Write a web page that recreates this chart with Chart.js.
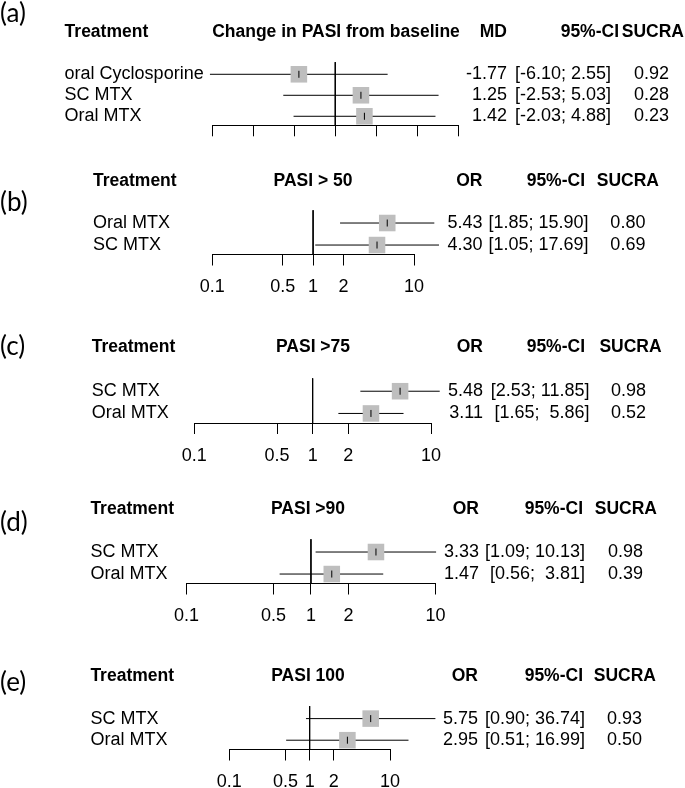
<!DOCTYPE html>
<html>
<head>
<meta charset="utf-8">
<script src="https://cdn.jsdelivr.net/npm/chart.js@4.4.1/dist/chart.umd.min.js"></script>
<style>
  html, body { margin: 0; padding: 0; background: #fff; }
  body { width: 685px; height: 788px; position: relative; overflow: hidden; }
  .panel { position: absolute; left: 0; width: 685px; }
</style>
</head>
<body>
<div class="panel"><canvas id="chartA"></canvas></div>
<div class="panel"><canvas id="chartB"></canvas></div>
<div class="panel"><canvas id="chartC"></canvas></div>
<div class="panel"><canvas id="chartD"></canvas></div>
<div class="panel"><canvas id="chartE"></canvas></div>
<script>
// (a) change in PASI from baseline, mean difference
const aTreatments = ['oral Cyclosporine', 'SC MTX', 'Oral MTX'];
const aEst = [-1.77, 1.25, 1.42];
const aLower = [-6.10, -2.53, -2.03];
const aUpper = [2.55, 5.03, 4.88];
const aSucra = [0.92, 0.28, 0.23];
const aTicks = [-6, -4, -2, 0, 2, 4, 6];

// (b) PASI > 50, odds ratio
const bTreatments = ['Oral MTX', 'SC MTX'];
const bEst = [5.43, 4.30];
const bLower = [1.85, 1.05];
const bUpper = [15.90, 17.69];
const bSucra = [0.80, 0.69];

// (c) PASI >75
const cTreatments = ['SC MTX', 'Oral MTX'];
const cEst = [5.48, 3.11];
const cLower = [2.53, 1.65];
const cUpper = [11.85, 5.86];
const cSucra = [0.98, 0.52];

// (d) PASI >90
const dTreatments = ['SC MTX', 'Oral MTX'];
const dEst = [3.33, 1.47];
const dLower = [1.09, 0.56];
const dUpper = [10.13, 3.81];
const dSucra = [0.98, 0.39];

// (e) PASI 100
const eTreatments = ['SC MTX', 'Oral MTX'];
const eEst = [5.75, 2.95];
const eLower = [0.90, 0.51];
const eUpper = [36.74, 16.99];
const eSucra = [0.93, 0.50];

const orTicks = [0.1, 0.5, 1, 2, 10];

const FONT = '"Liberation Sans", Arial, sans-serif';
const FONT_SIZE = 18;
const HEAD_SIZE = 17.5;
const TICK_LEN = 11;
const TICK_PAD = 11;

// layout per panel, absolute page pixels
const panels = [
  { id: 'chartA', tag: '(a)', title: 'Change in PASI from baseline', estLabel: 'MD', log: false, ref: 0, tickLabels: false,
    names: aTreatments, est: aEst, lower: aLower, upper: aUpper, sucra: aSucra, ticks: aTicks,
    top: 0, rowsTop: 53.3, axisY: 126, x0: 212, x1: 458.5, tagY: 14, headY: 32, nameX: 64.6, titleX: 336,
    estRight: 507, ciRight: 611, ciHeadRight: 619, sucraRight: 669, sucraHeadRight: 684 },
  { id: 'chartB', tag: '(b)', title: 'PASI > 50', estLabel: 'OR', log: true, ref: 1, tickLabels: true,
    names: bTreatments, est: bEst, lower: bLower, upper: bUpper, sucra: bSucra, ticks: orTicks,
    top: 150, rowsTop: 201, axisY: 254, x0: 212.2, x1: 414, tagY: 203, headY: 181, nameX: 93, titleX: 313,
    estRight: 482.5, ciRight: 588.6, ciHeadRight: 585, sucraRight: 645.4, sucraHeadRight: 659 },
  { id: 'chartC', tag: '(c)', title: 'PASI >75', estLabel: 'OR', log: true, ref: 1, tickLabels: true,
    names: cTreatments, est: cEst, lower: cLower, upper: cUpper, sucra: cSucra, ticks: orTicks,
    top: 310, rowsTop: 369, axisY: 423, x0: 194.3, x1: 431, tagY: 347, headY: 347, nameX: 91.7, titleX: 313,
    estRight: 483, ciRight: 589.5, ciHeadRight: 585, sucraRight: 646, sucraHeadRight: 661.6 },
  { id: 'chartD', tag: '(d)', title: 'PASI >90', estLabel: 'OR', log: true, ref: 1, tickLabels: true,
    names: dTreatments, est: dEst, lower: dLower, upper: dUpper, sucra: dSucra, ticks: orTicks,
    top: 470, rowsTop: 530, axisY: 583, x0: 186.5, x1: 435.4, tagY: 523, headY: 509, nameX: 90.4, titleX: 308,
    estRight: 479, ciRight: 585, ciHeadRight: 583, sucraRight: 643, sucraHeadRight: 657 },
  { id: 'chartE', tag: '(e)', title: 'PASI 100', estLabel: 'OR', log: true, ref: 1, tickLabels: true,
    names: eTreatments, est: eEst, lower: eLower, upper: eUpper, sucra: eSucra, ticks: orTicks,
    top: 630, rowsTop: 697, axisY: 748, x0: 229.3, x1: 390, tagY: 683, headY: 676, nameX: 90.4, titleX: 308,
    estRight: 478, ciRight: 585, ciHeadRight: 583, sucraRight: 642, sucraHeadRight: 656 }
];

function textPlugin(p) {
  return {
    id: 'forestText',
    afterDraw(chart) {
      const ctx = chart.ctx;
      const yScale = chart.scales.y;
      const off = p.top;
      const loTxt = p.lower.map(v => v.toFixed(2));
      const hiTxt = p.upper.map(v => v.toFixed(2));
      const loW = Math.max(...loTxt.map(s => s.length));
      const hiW = Math.max(...hiTxt.map(s => s.length));

      ctx.save();
      ctx.fillStyle = '#000';
      ctx.textBaseline = 'middle';

      ctx.font = '26px Lato, "Open Sans", sans-serif';
      ctx.textAlign = 'left';
      ctx.fillText(p.tag, 0, p.tagY - off);

      ctx.font = 'bold ' + HEAD_SIZE + 'px ' + FONT;
      ctx.fillText('Treatment', p.nameX, p.headY - off);
      ctx.textAlign = 'center';
      ctx.fillText(p.title, p.titleX, p.headY - off);
      ctx.textAlign = 'right';
      ctx.fillText(p.estLabel, p.estRight, p.headY - off);
      ctx.fillText('95%-CI', p.ciHeadRight, p.headY - off);
      ctx.fillText('SUCRA', p.sucraHeadRight, p.headY - off);

      ctx.font = FONT_SIZE + 'px ' + FONT;
      p.names.forEach((name, i) => {
        const y = yScale.getPixelForValue(i + 1);
        ctx.textAlign = 'left';
        ctx.fillText(name, p.nameX, y);
        ctx.textAlign = 'right';
        ctx.fillText(p.est[i].toFixed(2), p.estRight, y);
        ctx.fillText('[' + loTxt[i].padStart(loW) + '; ' + hiTxt[i].padStart(hiW) + ']', p.ciRight, y);
        ctx.fillText(p.sucra[i].toFixed(2), p.sucraRight, y);
      });
      ctx.restore();
    }
  };
}

function makeChart(p) {
  const n = p.names.length;
  const axisH = p.tickLabels ? TICK_LEN + FONT_SIZE * 1.2 + TICK_PAD * 2 : TICK_LEN;
  const height = p.axisY - p.top + axisH;
  const canvas = document.getElementById(p.id);
  canvas.width = 685;
  canvas.height = height;
  canvas.parentNode.style.top = p.top + 'px';
  canvas.parentNode.style.height = height + 'px';

  const pts = p.est.map((v, i) => ({ x: v, y: i + 1 }));
  const datasets = [];
  // small vertical mark at the estimate
  datasets.push({ data: pts, showLine: false, clip: false, pointStyle: 'line', pointRotation: 90, pointRadius: 3.5,
    pointBorderColor: '#000', pointBorderWidth: 1, pointBackgroundColor: '#000' });
  // grey squares
  datasets.push({ data: pts, showLine: false, clip: false, pointStyle: 'rect', pointRadius: 11.7,
    pointBackgroundColor: '#bebebe', pointBorderWidth: 0 });
  // confidence intervals
  p.names.forEach((_, i) => {
    datasets.push({ data: [{ x: p.lower[i], y: i + 1 }, { x: p.upper[i], y: i + 1 }], showLine: true, clip: false,
      borderColor: '#000', borderWidth: 1, pointRadius: 0 });
  });
  // line of no effect
  datasets.push({ data: [{ x: p.ref, y: 0.42 }, { x: p.ref, y: n + 0.43 }], showLine: true, clip: false,
    borderColor: '#000', borderWidth: 1, pointRadius: 0 });

  new Chart(canvas.getContext('2d'), {
    type: 'scatter',
    data: { datasets: datasets },
    options: {
      responsive: false,
      animation: false,
      devicePixelRatio: 1,
      events: [],
      layout: { padding: { left: p.x0, right: 685 - p.x1, top: p.rowsTop - p.top, bottom: 0 } },
      plugins: { legend: { display: false }, tooltip: { enabled: false } },
      scales: {
        x: {
          type: p.log ? 'logarithmic' : 'linear',
          min: p.ticks[0],
          max: p.ticks[p.ticks.length - 1],
          position: 'bottom',
          border: { display: true, color: '#000', width: 1 },
          grid: { drawOnChartArea: false, drawTicks: true, tickLength: TICK_LEN, color: '#000', lineWidth: 1 },
          ticks: {
            display: p.tickLabels, autoSkip: false, maxRotation: 0, padding: TICK_PAD, color: '#000',
            font: { family: FONT, size: FONT_SIZE },
            callback: v => String(v)
          },
          afterBuildTicks: s => { s.ticks = p.ticks.map(v => ({ value: v })); }
        },
        y: { type: 'linear', reverse: true, min: 0, max: n + 0.43, display: false }
      }
    },
    plugins: [textPlugin(p)]
  });
}

panels.forEach(makeChart);
</script>
</body>
</html>
